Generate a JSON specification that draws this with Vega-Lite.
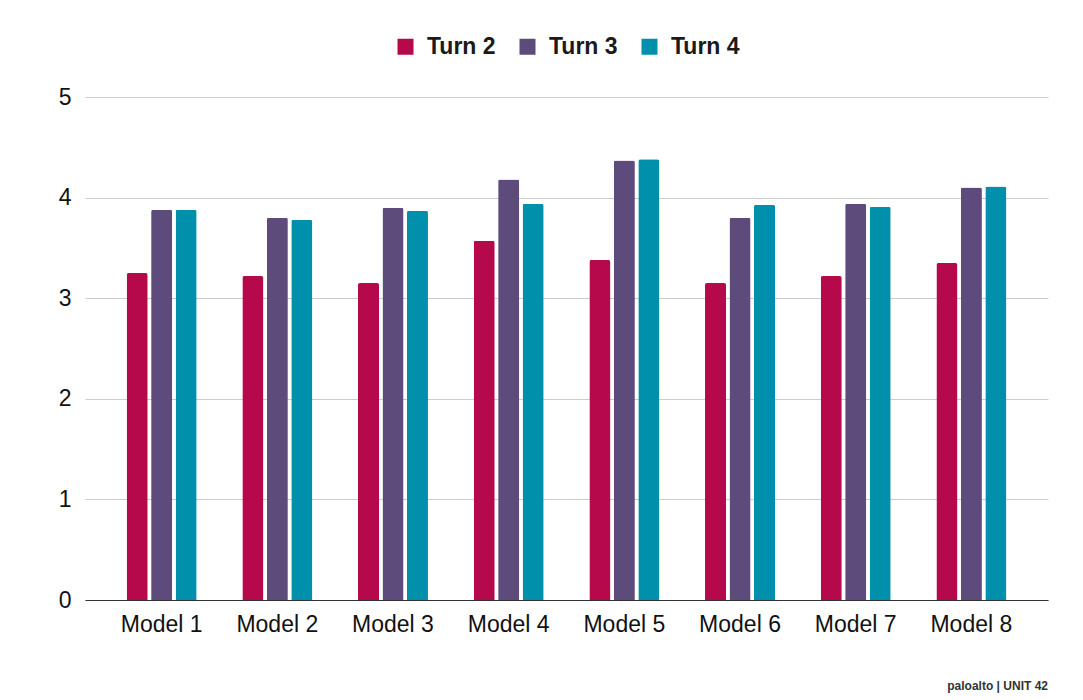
{
  "$schema": "https://vega.github.io/schema/vega-lite/v6.json",
  "autosize": "none",
  "width": 963,
  "height": 503,
  "padding": {"left": 85, "top": 97, "right": 35, "bottom": 100},
  "background": "white",
  "config": {
    "font": "Liberation Sans",
    "view": {"stroke": null},
    "legend": {"layout": {"top": {"anchor": "middle"}}}
  },
  "title": {
    "text": "paloalto  |  UNIT 42",
    "orient": "bottom",
    "anchor": "end",
    "fontSize": 12,
    "fontWeight": "bold",
    "color": "#333333",
    "offset": 45
  },
  "data": {
    "values": [
      {"model": "Model 1", "turn": "Turn 2", "score": 3.25},
      {"model": "Model 1", "turn": "Turn 3", "score": 3.88},
      {"model": "Model 1", "turn": "Turn 4", "score": 3.88},
      {"model": "Model 2", "turn": "Turn 2", "score": 3.22},
      {"model": "Model 2", "turn": "Turn 3", "score": 3.80},
      {"model": "Model 2", "turn": "Turn 4", "score": 3.78},
      {"model": "Model 3", "turn": "Turn 2", "score": 3.15},
      {"model": "Model 3", "turn": "Turn 3", "score": 3.90},
      {"model": "Model 3", "turn": "Turn 4", "score": 3.87},
      {"model": "Model 4", "turn": "Turn 2", "score": 3.57},
      {"model": "Model 4", "turn": "Turn 3", "score": 4.18},
      {"model": "Model 4", "turn": "Turn 4", "score": 3.94},
      {"model": "Model 5", "turn": "Turn 2", "score": 3.38},
      {"model": "Model 5", "turn": "Turn 3", "score": 4.37},
      {"model": "Model 5", "turn": "Turn 4", "score": 4.38},
      {"model": "Model 6", "turn": "Turn 2", "score": 3.15},
      {"model": "Model 6", "turn": "Turn 3", "score": 3.80},
      {"model": "Model 6", "turn": "Turn 4", "score": 3.93},
      {"model": "Model 7", "turn": "Turn 2", "score": 3.22},
      {"model": "Model 7", "turn": "Turn 3", "score": 3.94},
      {"model": "Model 7", "turn": "Turn 4", "score": 3.91},
      {"model": "Model 8", "turn": "Turn 2", "score": 3.35},
      {"model": "Model 8", "turn": "Turn 3", "score": 4.10},
      {"model": "Model 8", "turn": "Turn 4", "score": 4.11}
    ]
  },
  "mark": {"type": "bar", "cornerRadiusTopLeft": 2, "cornerRadiusTopRight": 2},
  "encoding": {
    "x": {
      "field": "model",
      "type": "nominal",
      "sort": null,
      "scale": {"paddingInner": 0.395, "paddingOuter": 0.36},
      "axis": {
        "title": null,
        "labelAngle": 0,
        "labelFontSize": 23,
        "labelColor": "#111111",
        "labelPadding": 13,
        "ticks": false,
        "domain": true,
        "domainColor": "#333333",
        "domainWidth": 1,
        "grid": false
      }
    },
    "xOffset": {
      "field": "turn",
      "type": "nominal",
      "scale": {"paddingInner": 0.14, "paddingOuter": 0}
    },
    "y": {
      "field": "score",
      "type": "quantitative",
      "scale": {"domain": [0, 5], "nice": false},
      "axis": {
        "title": null,
        "values": [0, 1, 2, 3, 4, 5],
        "labelFontSize": 23,
        "labelColor": "#111111",
        "labelPadding": 14,
        "ticks": false,
        "domain": false,
        "grid": true,
        "gridColor": "#cccccc",
        "gridWidth": 1
      }
    },
    "color": {
      "field": "turn",
      "type": "nominal",
      "scale": {
        "domain": ["Turn 2", "Turn 3", "Turn 4"],
        "range": ["#b5094b", "#5c4b7b", "#0090ac"]
      },
      "legend": {
        "title": null,
        "orient": "top",
        "direction": "horizontal",
        "symbolType": "square",
        "symbolSize": 256,
        "symbolStrokeWidth": 0,
        "labelFontSize": 23,
        "labelFontWeight": "bold",
        "labelColor": "#1a1a1a",
        "columnPadding": 20,
        "labelOffset": 10,
        "offset": 38
      }
    }
  }
}
